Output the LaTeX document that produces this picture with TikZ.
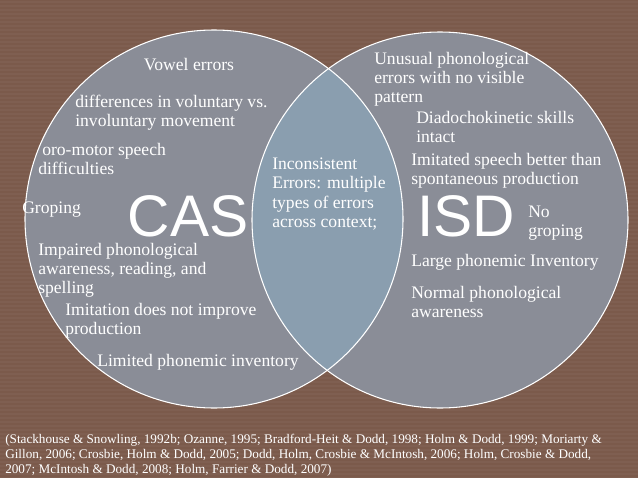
\documentclass[tikz,border=0pt]{standalone}
\usepackage{fontspec}
\setmainfont{Liberation Serif}
\setsansfont{Liberation Sans}
\begin{document}
\begin{tikzpicture}[x=0.75pt,y=-0.75pt,
  txt/.style={text=white,font=\fontsize{13.2}{14.3}\selectfont,inner sep=0pt,anchor=north west,align=left},
  big/.style={text=white,font=\sffamily\fontsize{44}{44}\selectfont,inner sep=0pt,text depth=0pt},
  cite/.style={text=white,font=\fontsize{9.9}{11.3}\selectfont,inner sep=0pt,anchor=north west,align=left}]
\definecolor{bg}{HTML}{7B5A4B}
\definecolor{circ}{HTML}{8A8D97}
\definecolor{lens}{HTML}{8A9EAF}
\fill[bg] (0,0) rectangle (638,478);
\useasboundingbox (0,0) rectangle (638,478);
\foreach \y in {2,6,...,478} \draw[white,opacity=0.035,line width=0.8pt] (0,\y) -- (638,\y);
\fill[circ] (214,219) circle[radius=189];
\fill[circ] (440,220) circle[radius=188];
\begin{scope}
\clip (214,219) circle[radius=189];
\fill[lens] (440,220) circle[radius=188];
\end{scope}
\draw[white,line width=0.8pt] (214,219) circle[radius=189];
\draw[white,line width=0.8pt] (440,220) circle[radius=188];
\node[big,anchor=base] (cas) at (188,236) {CAS};
\node[big,anchor=base] (isd) at (466,236) {ISD};
\node[txt,anchor=north] (v) at (189,58) {Vowel errors};
\node[txt] (d) at (75,95) {differences in voluntary vs.\\involuntary movement};
\node[txt] (o) at (38,143) {\hspace*{3pt}oro-motor speech\\difficulties};
\node[txt] (g) at (22,202) {Groping};
\node[txt] (i) at (38,243) {Impaired phonological\\awareness, reading, and\\spelling};
\node[txt] (im) at (65,303) {Imitation does not improve\\production};
\node[txt] (l) at (97,354) {Limited phonemic inventory};
\node[txt] (m) at (272,158) {Inconsistent\\Errors: multiple\\types of errors\\across context;};
\node[txt] (u) at (374,52) {Unusual phonological\\errors with no visible\\pattern};
\node[txt] (dd) at (416,111) {Diadochokinetic skills\\intact};
\node[txt] (is) at (411,153) {Imitated speech better than\\spontaneous production};
\node[txt] (n) at (528,206) {No\\groping};
\node[txt] (lp) at (411,254) {Large phonemic Inventory};
\node[txt] (np) at (411,286) {Normal phonological\\awareness};
\node[cite] (c) at (5,434) {(Stackhouse \& Snowling, 1992b; Ozanne, 1995; Bradford-Heit \& Dodd, 1998; Holm \& Dodd, 1999; Moriarty \&\\Gillon, 2006; Crosbie, Holm \& Dodd, 2005; Dodd, Holm, Crosbie \& McIntosh, 2006; Holm, Crosbie \& Dodd,\\2007; McIntosh \& Dodd, 2008; Holm, Farrier \& Dodd, 2007)};
\end{tikzpicture}
\end{document}
